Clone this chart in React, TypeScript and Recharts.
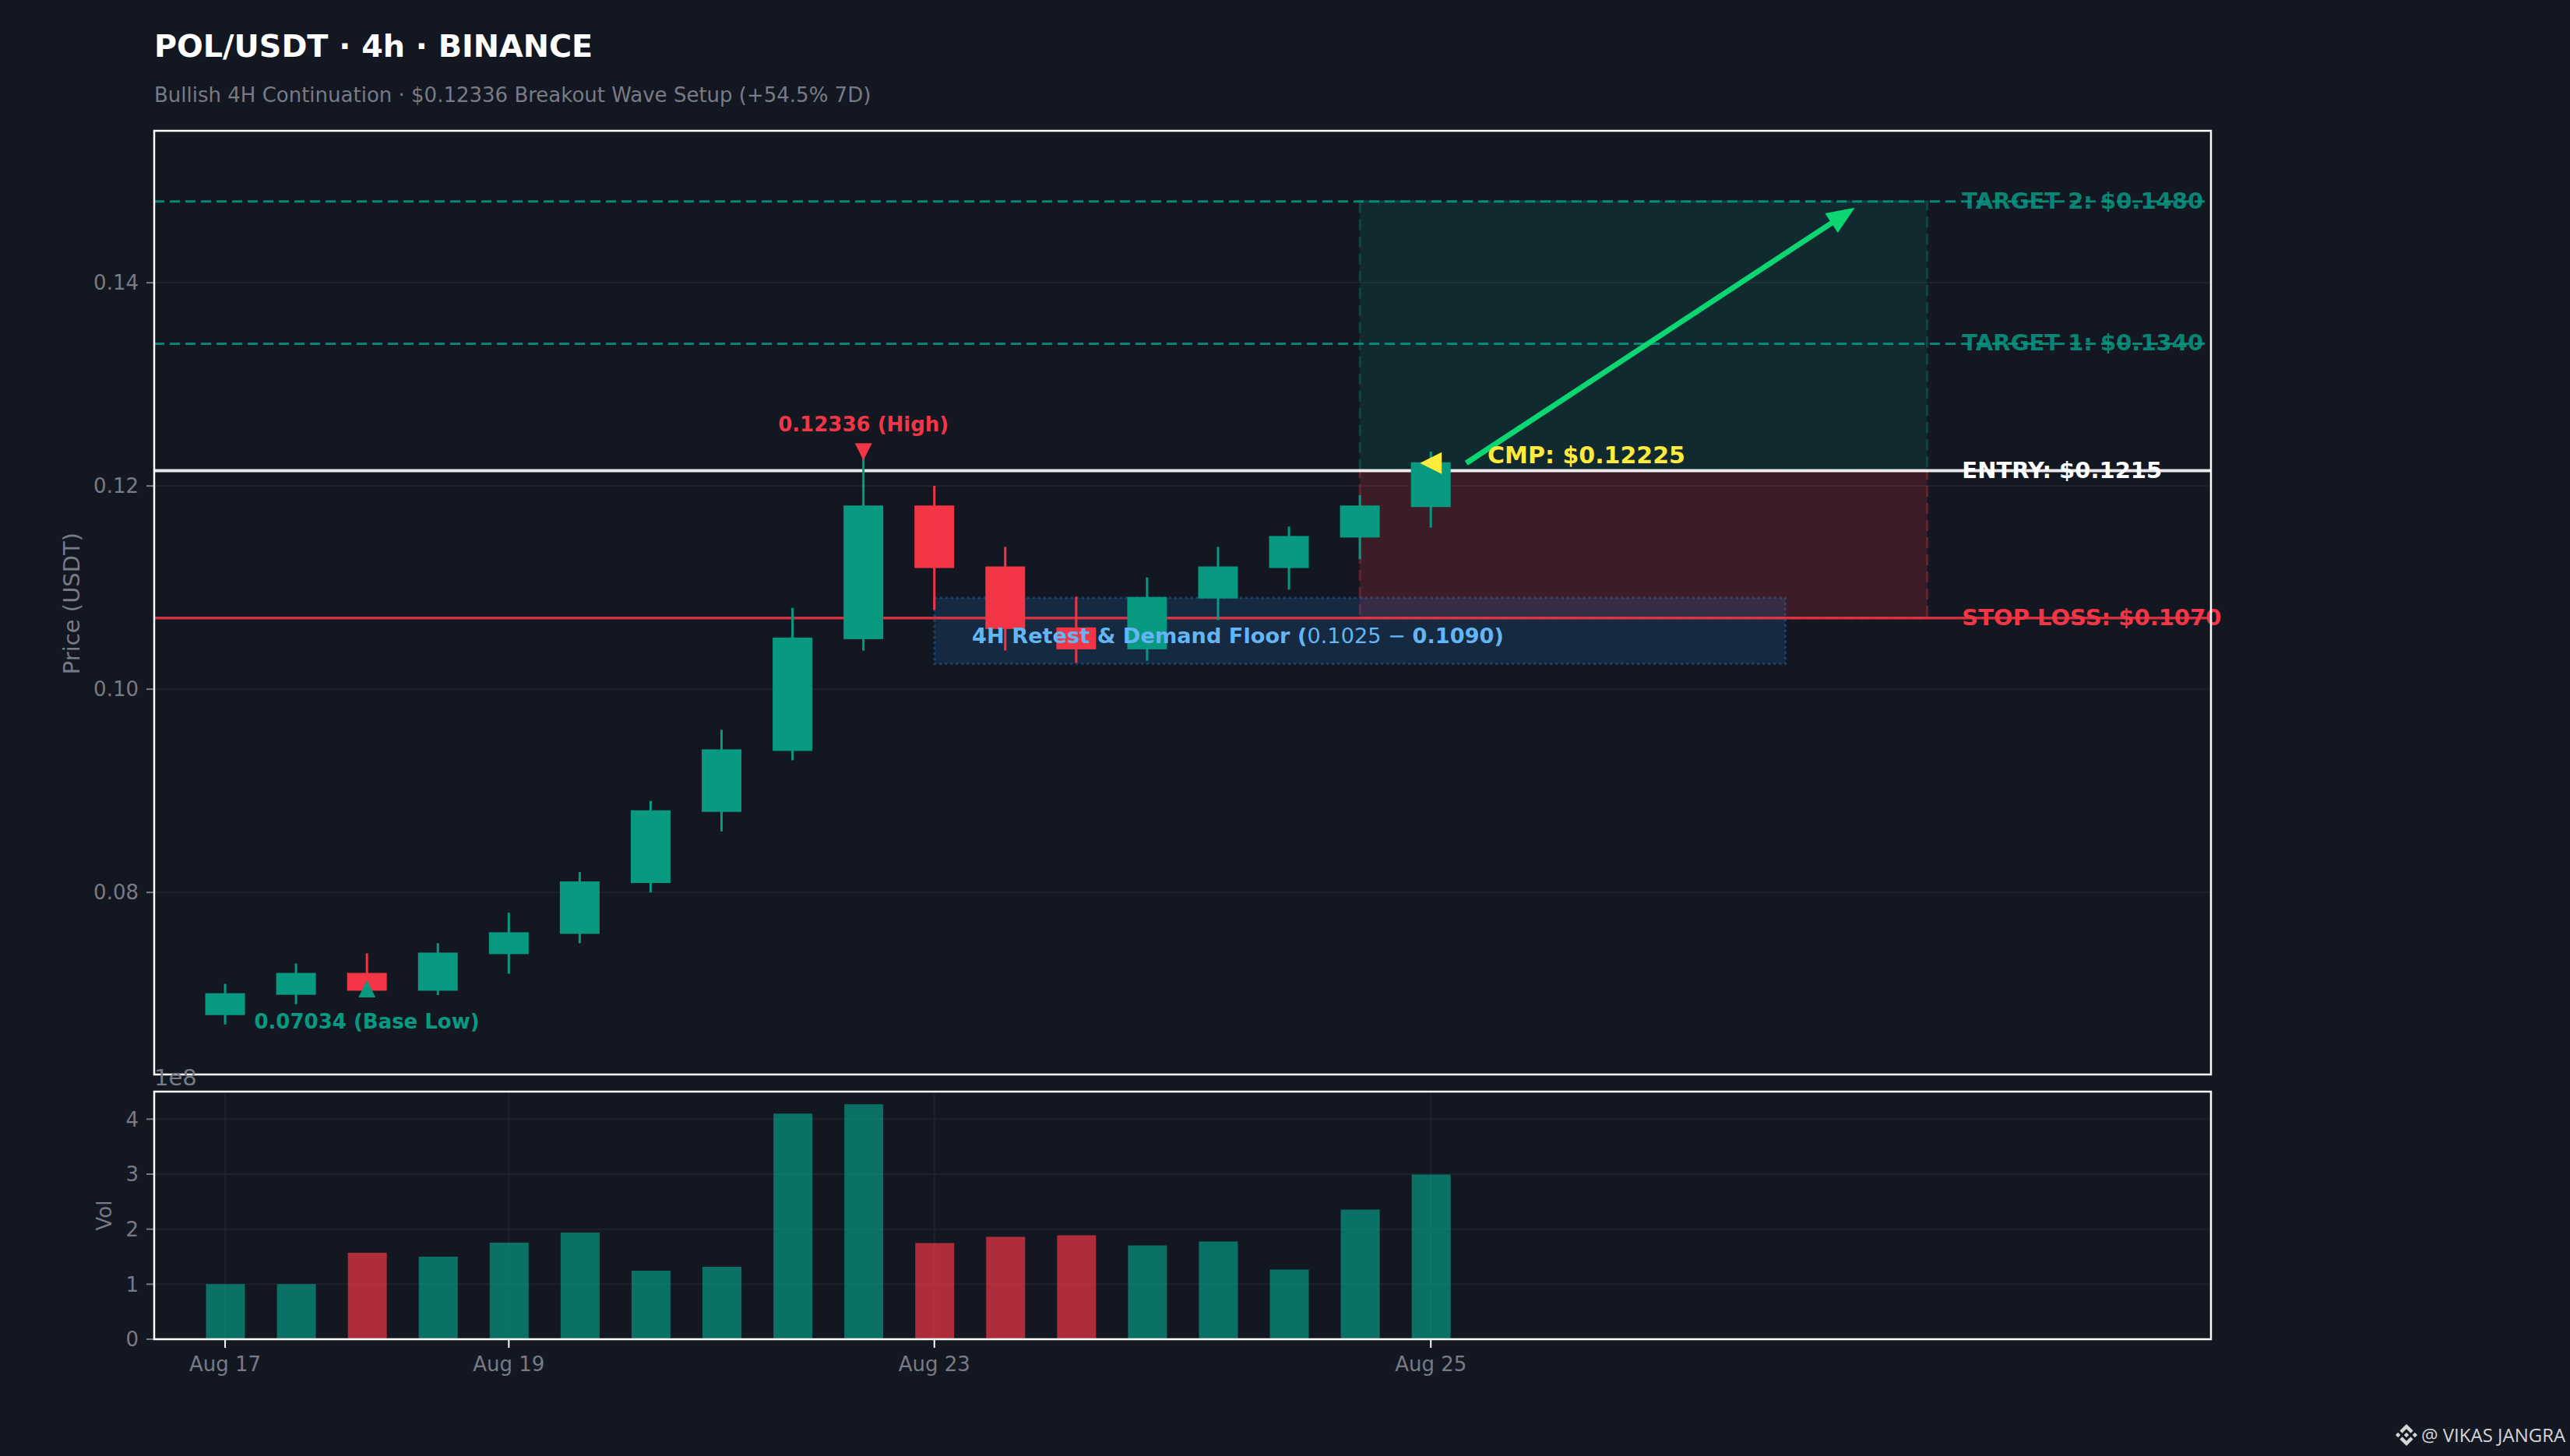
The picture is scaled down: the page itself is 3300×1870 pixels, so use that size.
import React from 'react'
import { Bar, CartesianGrid, Cell, ComposedChart, ReferenceArea, ReferenceDot, ReferenceLine, XAxis, YAxis } from 'recharts'

// candles, one per 4h bar
const opens = [0.068, 0.07, 0.072, 0.0704, 0.074, 0.076, 0.081, 0.088, 0.094, 0.105, 0.118, 0.112, 0.106, 0.104, 0.109, 0.112, 0.115, 0.118]
const highs = [0.071, 0.073, 0.074, 0.075, 0.078, 0.082, 0.089, 0.096, 0.108, 0.12336, 0.12, 0.114, 0.1091, 0.111, 0.114, 0.116, 0.1191, 0.12337]
const lows = [0.067, 0.069, 0.07034, 0.0699, 0.072, 0.075, 0.08, 0.086, 0.093, 0.1038, 0.1078, 0.1038, 0.1026, 0.1028, 0.1068, 0.1098, 0.1128, 0.1159]
const closes = [0.07, 0.072, 0.0704, 0.074, 0.076, 0.081, 0.088, 0.094, 0.105, 0.118, 0.112, 0.106, 0.104, 0.109, 0.112, 0.115, 0.118, 0.12225]
const volumes = [1.0, 1.0, 1.57, 1.5, 1.755, 1.94, 1.245, 1.315, 4.1, 4.27, 1.747, 1.86, 1.889, 1.705, 1.775, 1.265, 2.356, 2.993]

const dateTicks = [0, 4, 10, 17]
const dateLabels = ['Aug 17', 'Aug 19', 'Aug 23', 'Aug 25']
const priceTicks = [0.08, 0.1, 0.12, 0.14]
const volTicks = [0, 1, 2, 3, 4]

const TARGET_2 = 0.148
const TARGET_1 = 0.134
const ENTRY = 0.1215
const STOP = 0.107
const FLOOR_LOW = 0.1025
const FLOOR_HIGH = 0.109
const CMP = 0.12225
const HIGH = 0.12336

const rows = opens.map((open, i) => ({ i, open, high: highs[i], low: lows[i], close: closes[i], vol: volumes[i] }))

const BG = '#131722'
const GREEN = '#089981'
const RED = '#f23645'
const GRAY = '#787b86'
const GRID = '#1e222d'
const BLUE = '#2196f3'
const FONT = '"DejaVu Sans", sans-serif'
const X_DOMAIN: [number, number] = [-1, 28]
const PRICE_DOMAIN: [number, number] = [0.06208, 0.15495]

const Candle = (props: any) => {
  const { x, y, width, height, payload } = props
  const perUnit = height / (payload.high - payload.low)
  const top = y + (payload.high - Math.max(payload.open, payload.close)) * perUnit
  const bottom = y + (payload.high - Math.min(payload.open, payload.close)) * perUnit
  const color = payload.close >= payload.open ? GREEN : RED
  return (
    <g>
      <line x1={x + width / 2} x2={x + width / 2} y1={y} y2={y + height} stroke={color} strokeWidth={3} />
      <rect x={x} y={top} width={width} height={bottom - top} fill={color} stroke={color} strokeWidth={2} />
    </g>
  )
}

const note = (text: string, color: string, size: number, anchor: string = 'start', opacity = 1, dy = 0) => (props: any) => (
  <text x={props.cx} y={props.cy + dy} fill={color} fillOpacity={opacity} fontFamily={FONT} fontSize={size} fontWeight="bold" textAnchor={anchor} dominantBaseline="central">
    {text}
  </text>
)

const floorNote = (props: any) => (
  <text x={props.cx} y={props.cy} fill="#64b5f6" fontFamily={FONT} fontSize={27.2} fontWeight="bold" textAnchor="middle" dominantBaseline="central">
    4H Retest &amp; Demand Floor (<tspan fontWeight="normal">0.1025 − </tspan>0.1090)
  </text>
)

// direction: 0 up, 90 right, 180 down, 270 left
const triangle = (color: string, direction: number, half: number) => (props: any) => (
  <polygon
    points={`0,${-half} ${half},${half} ${-half},${half}`}
    fill={color}
    transform={`translate(${props.cx} ${props.cy}) rotate(${direction})`}
  />
)

const Arrow = (props: any) => {
  const { x1, y1, x2, y2 } = props
  const angle = Math.atan2(y2 - y1, x2 - x1)
  const len = Math.hypot(x2 - x1, y2 - y1) - 30
  return (
    <g transform={`translate(${x1} ${y1}) rotate(${(angle * 180) / Math.PI})`}>
      <line x1={0} y1={0} x2={len} y2={0} stroke="#0ad672" strokeWidth={7} />
      <polygon points={`${len + 32},0 ${len - 4},-15 ${len - 4},15`} fill="#0ad672" />
    </g>
  )
}

const axisTick = { fill: GRAY, fontSize: 26, fontFamily: FONT }

function PriceChart() {
  return (
    <ComposedChart width={3300} height={1400} data={rows} margin={{ top: 168, right: 461, bottom: 0, left: 0 }}>
      <CartesianGrid stroke={GRID} strokeWidth={2} />
      <XAxis dataKey="i" type="number" domain={X_DOMAIN} ticks={dateTicks} tick={false} tickLine={false} axisLine={false} height={20} allowDataOverflow />
      <YAxis
        type="number"
        domain={PRICE_DOMAIN}
        ticks={priceTicks}
        width={198}
        allowDataOverflow
        tick={axisTick}
        tickFormatter={(v: number) => v.toFixed(2)}
        tickSize={10}
        tickMargin={10}
        tickLine={{ stroke: GRAY, strokeWidth: 2 }}
        axisLine={false}
      />
      <ReferenceArea x1={16} x2={24} y1={ENTRY} y2={TARGET_2} fill={GREEN} fillOpacity={0.15} stroke={GREEN} strokeOpacity={0.3} strokeWidth={3} strokeDasharray="14 8" zIndex={100} />
      <ReferenceArea x1={16} x2={24} y1={STOP} y2={ENTRY} fill={RED} fillOpacity={0.18} stroke={RED} strokeOpacity={0.3} strokeWidth={3} strokeDasharray="14 8" zIndex={100} />
      <ReferenceArea x1={10} x2={22} y1={FLOOR_LOW} y2={FLOOR_HIGH} fill={BLUE} fillOpacity={0.15} stroke={BLUE} strokeOpacity={0.3} strokeWidth={3} strokeDasharray="3 4" zIndex={110} />
      <ReferenceLine y={TARGET_2} stroke={GREEN} strokeOpacity={0.85} strokeWidth={3} strokeDasharray="13 7" zIndex={200} />
      <ReferenceLine y={TARGET_1} stroke={GREEN} strokeOpacity={0.85} strokeWidth={3} strokeDasharray="13 7" zIndex={200} />
      <ReferenceLine y={ENTRY} stroke="#ffffff" strokeOpacity={0.9} strokeWidth={4} zIndex={200} />
      <ReferenceLine y={STOP} stroke={RED} strokeOpacity={0.85} strokeWidth={3.5} zIndex={200} />
      <Bar dataKey={(d: any) => [d.low, d.high]} barSize={49} shape={Candle} isAnimationActive={false} zIndex={300} />
      <ReferenceLine segment={[{ x: 17.5, y: CMP }, { x: 22.96, y: 0.1473 }]} shape={Arrow} zIndex={400} />
      <ReferenceDot x={9} y={HIGH} r={1} shape={triangle(RED, 180, 11)} zIndex={400} />
      <ReferenceDot x={2} y={0.0705} r={1} shape={triangle(GREEN, 0, 11)} zIndex={400} />
      <ReferenceDot x={17} y={CMP} r={1} shape={triangle('#ffeb3b', 270, 14)} zIndex={400} />
      <ReferenceDot x={9} y={0.1261} r={1} shape={note('0.12336 (High)', RED, 26, 'middle')} zIndex={500} />
      <ReferenceDot x={0.41} y={0.0673} r={1} shape={note('0.07034 (Base Low)', GREEN, 26)} zIndex={500} />
      <ReferenceDot x={17.8} y={0.12306} r={1} shape={note('CMP: $0.12225', '#ffeb3b', 30)} zIndex={500} />
      <ReferenceDot x={14.28} y={0.10528} r={1} shape={floorNote} zIndex={500} />
      <ReferenceDot x={24.49} y={TARGET_2} r={1} shape={note('TARGET 2: $0.1480', GREEN, 29, 'start', 0.85, -1)} zIndex={500} />
      <ReferenceDot x={24.49} y={TARGET_1} r={1} shape={note('TARGET 1: $0.1340', GREEN, 29, 'start', 0.85, -1)} zIndex={500} />
      <ReferenceDot x={24.49} y={ENTRY} r={1} shape={note('ENTRY: $0.1215', '#ffffff', 29, 'start', 1, -1)} zIndex={500} />
      <ReferenceDot x={24.49} y={STOP} r={1} shape={note('STOP LOSS: $0.1070', RED, 29, 'start', 1, -1)} zIndex={500} />
      <ReferenceArea x1={X_DOMAIN[0]} x2={X_DOMAIN[1]} y1={PRICE_DOMAIN[0]} y2={PRICE_DOMAIN[1]} fill="none" stroke="#ffffff" strokeWidth={2.5} zIndex={600} />
    </ComposedChart>
  )
}

function VolumeChart() {
  return (
    <ComposedChart width={3300} height={480} data={rows} margin={{ top: 12, right: 461, bottom: 0, left: 0 }}>
      <CartesianGrid stroke={GRID} strokeWidth={2} />
      <XAxis
        dataKey="i"
        type="number"
        domain={X_DOMAIN}
        ticks={dateTicks}
        height={150}
        allowDataOverflow
        tick={axisTick}
        tickFormatter={(v: number) => dateLabels[dateTicks.indexOf(v)]}
        tickSize={11}
        tickMargin={12}
        tickLine={{ stroke: '#ffffff', strokeWidth: 2 }}
        axisLine={false}
      />
      <YAxis
        type="number"
        domain={[0, 4.5]}
        ticks={volTicks}
        width={198}
        allowDataOverflow
        tick={axisTick}
        tickSize={10}
        tickMargin={10}
        tickLine={{ stroke: GRAY, strokeWidth: 2 }}
        axisLine={false}
      />
      <Bar dataKey="vol" barSize={50} isAnimationActive={false}>
        {rows.map((r) => (
          <Cell key={r.i} fill={r.close >= r.open ? GREEN : RED} fillOpacity={0.7} />
        ))}
      </Bar>
      <ReferenceArea x1={X_DOMAIN[0]} x2={X_DOMAIN[1]} y1={0} y2={4.5} fill="none" stroke="#ffffff" strokeWidth={2.5} zIndex={600} />
    </ComposedChart>
  )
}

const textAt = (left: number, top: number, size: number, color: string, extra: any = {}) => ({
  position: 'absolute' as const, left, top, fontSize: size, color, fontFamily: FONT, whiteSpace: 'nowrap' as const, lineHeight: 1, ...extra,
})

export default function App() {
  return (
    <div style={{ position: 'absolute', left: 0, top: 0, width: 3300, height: 1870, background: BG, overflow: 'hidden' }}>
      <div style={{ position: 'absolute', left: 0, top: 0 }}><PriceChart /></div>
      <div style={{ position: 'absolute', left: 0, top: 1390 }}><VolumeChart /></div>
      <div style={textAt(198, 40, 39.7, '#ffffff', { fontWeight: 'bold' })}>POL/USDT · 4h · BINANCE</div>
      <div style={textAt(198, 109, 26, GRAY)}>Bullish 4H Continuation · $0.12336 Breakout Wave Setup (+54.5% 7D)</div>
      <div style={textAt(198, 1370, 29, GRAY)}>1e8</div>
      <div style={textAt(92, 775, 29, GRAY, { transform: 'translate(-50%,-50%) rotate(-90deg)' })}>Price (USDT)</div>
      <div style={textAt(134, 1561, 26, GRAY, { transform: 'translate(-50%,-50%) rotate(-90deg)' })}>Vol</div>
      <svg style={{ position: 'absolute', left: 3076, top: 1829 }} width={28} height={28} viewBox="0 0 126.61 126.61">
        <path fill="#d5d5d8" d="M38.73 53.2l24.59-24.58 24.6 24.6 14.3-14.31L63.32 0 24.43 38.9l14.3 14.3zM0 63.31l14.3-14.31 14.31 14.31-14.31 14.3zM38.73 73.41L63.32 98l24.6-24.6 14.31 14.29-38.9 38.91-38.91-38.88zM98 63.31l14.3-14.31 14.31 14.3-14.31 14.32zM77.83 63.3L63.32 48.78 52.59 59.51l-1.24 1.23-2.54 2.54 14.51 14.5 14.51-14.47z" />
      </svg>
      <div style={textAt(3109, 1831, 24, '#d5d5d8', { fontFamily: '"Open Sans", sans-serif' })}>@ VIKAS JANGRA</div>
    </div>
  )
}
